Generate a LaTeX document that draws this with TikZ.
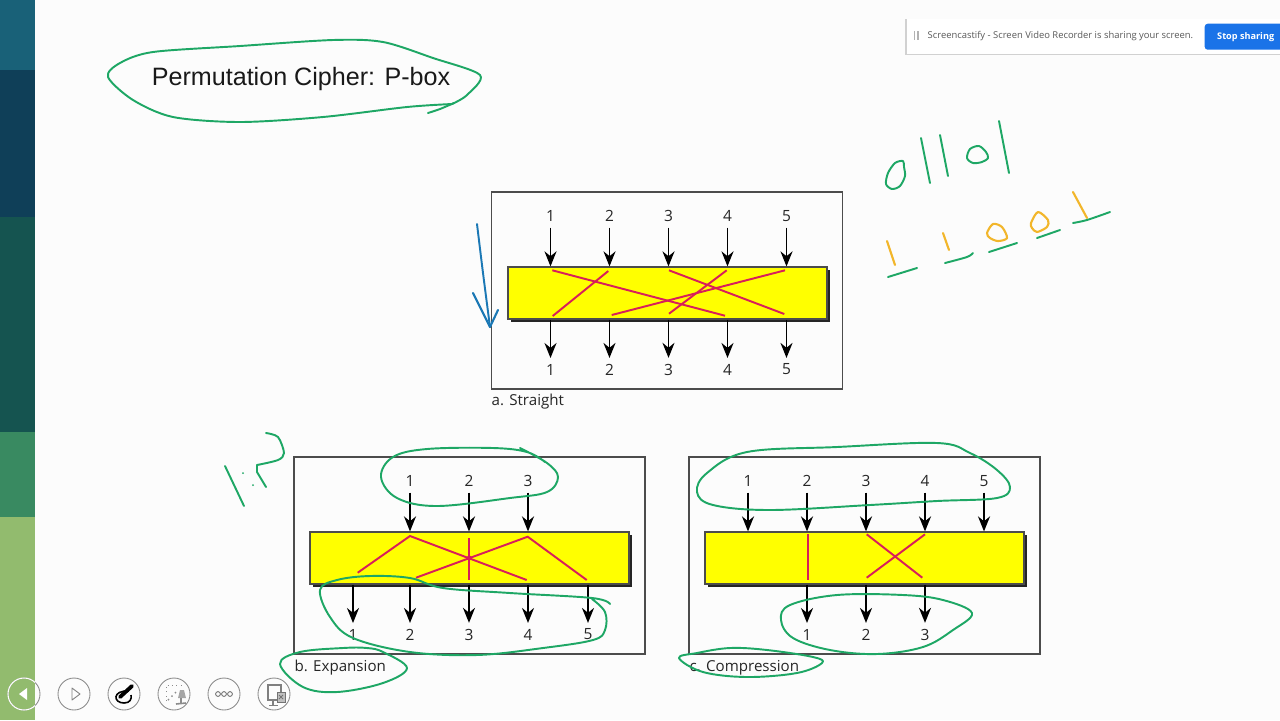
\documentclass[tikz,border=0pt]{standalone}
\usepackage{fontspec}
\setmainfont{Liberation Sans}
\newfontfamily\figfont{Open Sans}
\usetikzlibrary{arrows.meta, shadows}
\definecolor{sideA}{HTML}{196178}
\definecolor{sideB}{HTML}{0F3F58}
\definecolor{sideC}{HTML}{155450}
\definecolor{sideD}{HTML}{398A61}
\definecolor{sideE}{HTML}{92BB6E}
\definecolor{boxyellow}{RGB}{255,255,0}
\definecolor{wirered}{HTML}{D81E5B}
\definecolor{inkgreen}{HTML}{1EA765}
\definecolor{inkorange}{HTML}{F2B62B}
\definecolor{inkblue}{HTML}{1B78B5}
\definecolor{stopblue}{HTML}{1A73E8}
\tikzset{
	frame/.style = {draw=black!70, line width=0.33pt, inner sep=0, minimum width=35.1mm, minimum height=19.7mm},
	pbox/.style = {draw=black!70, fill=boxyellow, line width=0.35pt, inner sep=0, minimum width=31.9mm, minimum height=5.2mm,
		drop shadow={shadow xshift=0.3mm, shadow yshift=-0.3mm, fill=black, opacity=0.85}},
	num/.style = {inner sep=1.5pt, font=\figfont\fontsize{4.4pt}{5pt}\selectfont, text=black!85},
	caption/.style = {inner sep=0, anchor=west, font=\figfont\fontsize{4.3pt}{5.2pt}\selectfont, text=black!85},
	pin/.style = {-{Stealth[length=1.5mm, width=1.2mm]}, line width=0.55pt, black},
	wire/.style = {wirered, line width=0.55pt},
	ink/.style = {inkgreen, line width=0.55pt, line cap=round, line join=round},
	orangeink/.style = {inkorange, line width=0.6pt, line cap=round, line join=round},
	toolring/.style = {circle, draw=black!45, line width=0.25pt, minimum size=3.2mm, inner sep=0}
}
\begin{document}
\begin{tikzpicture}[x=0.1mm, y=-0.1mm]
	\useasboundingbox (0,0) rectangle (1280,720);
	\fill[white!99!black] (0,0) rectangle (1280,720);
	% side strip
	\fill[sideA] (0,0) rectangle (35,70);
	\fill[sideB] (0,70) rectangle (35,217);
	\fill[sideC] (0,217) rectangle (35,432);
	\fill[sideD] (0,432) rectangle (35,517);
	\fill[sideE] (0,517) rectangle (35,720);

	\node[inner sep=0, font=\fontsize{7.15pt}{8.5pt}\selectfont, text=black!90] (title) at (301,78.5) {Permutation Cipher: P-box};
	\draw[ink] plot[smooth, tension=0.5] coordinates {(452,104) (407,107) (323,117) (240,122) (173,117) (133,100) (108,77) (120,63) (153,52) (240,46) (333,40) (383,42) (433,58) (480,75) (467,95) (452,104)};
	\draw[ink] plot[smooth] coordinates {(428,113) (440,109) (454,103)};

	% a. straight
	\node[frame] (aframe) at (667,290.5) {};
	\node[pbox] (abox) at (667.5,293) {};
	\foreach \n/\x in {1/550.5, 2/609.5, 3/668.5, 4/727.5, 5/786.5} {
		\node[num] (atop\n) at (\x,216) {\n};
		\node[num] (abot\n) at (\x,369.5) {\n};
		\draw[pin] (atop\n) -- (atop\n |- abox.north);
		\draw[pin] (abot\n |- abox.south) -- (abot\n);
	}
	\draw[wire] (552.3,270.3) -- (725,315.7);
	\draw[wire] (608.3,271) -- (552.7,316);
	\draw[wire] (669,270.3) -- (784.3,314);
	\draw[wire] (726.7,270.3) -- (669,313.7);
	\draw[wire] (785,270.3) -- (611.7,315);
	\node[caption] (acap) at (491,401.5) {a. Straight};

	% b. expansion
	\node[frame] (bframe) at (469.5,555.5) {};
	\node[pbox] (bbox) at (469.5,558) {};
	\foreach \n/\x in {1/410, 2/469, 3/528} {
		\node[num] (btop\n) at (\x,481) {\n};
		\draw[pin] (btop\n) -- (btop\n |- bbox.north);
	}
	\foreach \n/\x in {1/353, 2/410, 3/469, 4/528, 5/588} {
		\node[num] (bbot\n) at (\x,634.5) {\n};
		\draw[pin] (bbot\n |- bbox.south) -- (bbot\n);
	}
	\draw[wire] (357.7,572.7) -- (410,536) -- (526.7,580);
	\draw[wire] (416,577.7) -- (527.7,536.7) -- (586.7,580);
	\draw[wire] (469.3,538.3) -- (469.3,580);
	\fill[wirered] (469.3,558) circle (2.5);
	\node[caption] (bcap) at (294,668) {b. Expansion};

	% c. compression
	\node[frame] (cframe) at (864.5,555.5) {};
	\node[pbox] (cbox) at (864.5,558) {};
	\foreach \n/\x in {1/748, 2/807, 3/866, 4/925, 5/984} {
		\node[num] (ctop\n) at (\x,481) {\n};
		\draw[pin] (ctop\n) -- (ctop\n |- cbox.north);
	}
	\foreach \n/\x in {1/807, 2/866, 3/925} {
		\node[num] (cbot\n) at (\x,634.5) {\n};
		\draw[pin] (cbot\n |- cbox.south) -- (cbot\n);
	}
	\draw[wire] (807.7,534.3) -- (807.7,580);
	\draw[wire] (866.7,534.3) -- (922.3,577.7);
	\draw[wire] (925,534.3) -- (866.7,577.7);
	\node[caption] (ccap) at (689,667.5) {c. Compression};

	% pen strokes on the panels
	\draw[inkblue, line width=0.55pt, line cap=round, line join=round] plot[smooth] coordinates {(477,224) (483,273) (490,327)};
	\draw[inkblue, line width=0.6pt, line cap=round, line join=round] (473,293) -- (490,327) -- (498,310);
	\draw[ink] plot[smooth, tension=0.6] coordinates {(520,448) (547,463) (558,477) (547,492) (510,498) (437,506) (397,498) (381,477) (393,457) (427,449) (493,448) (527,452) (545,462)};
	\draw[ink] plot[smooth, tension=0.6] coordinates {(610,604) (592,598) (510,593) (443,588) (410,578) (370,576) (337,580) (320,590) (330,617) (353,638) (410,652) (477,655) (543,648) (593,640) (605,630) (605,612) (592,599)};
	\draw[ink] plot[smooth cycle, tension=0.6] coordinates {(383,652) (407,668) (383,683) (337,692) (303,687) (280,664) (300,652) (343,648) (367,648)};
	\draw[ink] plot[smooth cycle, tension=0.6] coordinates {(1010,487) (997,498) (937,501) (870,505) (770,510) (713,505) (697,492) (707,473) (747,452) (837,447) (937,443) (970,453) (997,470)};
	\draw[ink] plot[smooth cycle, tension=0.6] coordinates {(972,613) (953,630) (923,647) (877,654) (830,650) (793,638) (781,620) (790,605) (837,595) (903,595) (943,600)};
	\draw[ink] plot[smooth cycle, tension=0.6] coordinates {(679,658) (703,672) (747,677) (797,673) (822,663) (813,657) (767,650) (730,648) (697,653)};

	% 1:2
	\draw[ink] (225,466) -- (244,506);
	\fill[inkgreen] (243,473) circle (1) (253,485) circle (1);
	\draw[ink] plot[smooth, tension=0.5] coordinates {(266,433) (278,437) (284,453) (278,460) (257,465)};
	\draw[ink] (257,465) -- (257,472) -- (266,487);

	% bits
	\draw[ink] plot[smooth cycle] coordinates {(903,161) (895,163) (888,173) (886,184) (892,189) (900,186) (905,176) (904,167)};
	\draw[ink] (921,138) -- (930,183);
	\draw[ink] (940,135) -- (948,176);
	\draw[ink] plot[smooth cycle] coordinates {(967,158) (970,149) (979,146) (986,152) (988,158) (982,162) (973,163)};
	\draw[ink] (999,121) -- (1009,173);
	\draw[orangeink] (887,241) -- (895,265);
	\draw[orangeink] (943,233) -- (949,250);
	\draw[orangeink] plot[smooth cycle] coordinates {(987,233) (993,224) (1002,227) (1007,238) (998,241) (990,238)};
	\draw[orangeink] plot[smooth cycle] coordinates {(1031,223) (1038,212) (1048,220) (1047,227) (1037,232) (1032,228)};
	\draw[orangeink] (1073,192) -- (1087,218);
	\draw[ink] (888,277) -- (917,268);
	\draw[ink] plot[smooth] coordinates {(945,263) (967,257) (973,253)};
	\draw[ink] (989,252) -- (1017,243);
	\draw[ink] (1037,238) -- (1060,230);
	\draw[ink] plot[smooth] coordinates {(1073,223) (1087,220) (1110,212)};

	% sharing bar
	\fill[black!18] (905,19) rectangle (1280,54.5);
	\node[fill=white, inner sep=0, minimum width=37.4mm, minimum height=3.5mm, anchor=north west] (sharebar) at (906,18) {};
	\node[fill=stopblue, rounded corners=0.3mm, inner sep=0, minimum width=8.2mm, minimum height=2.6mm, anchor=north west,
		text=white, font=\figfont\bfseries\fontsize{2.6pt}{3.2pt}\selectfont] (stopbtn) at (1204,23) {Stop sharing};
	\node[inner sep=0, anchor=west, text=black!65, font=\figfont\fontsize{2.68pt}{3.2pt}\selectfont] (sharetext) at (927,36.5) {Screencastify - Screen Video Recorder is sharing your screen.};
	\draw[black!30, line width=0.3pt] (914.5,31) -- (914.5,40) (918,31) -- (918,40);

	% slide show buttons
	\node[toolring] (tool1) at (24,694) {};
	\node[toolring] (tool2) at (74,694) {};
	\node[toolring] (tool3) at (124,694) {};
	\node[toolring] (tool4) at (174,694) {};
	\node[toolring] (tool5) at (224,694) {};
	\node[toolring] (tool6) at (274,694) {};
	\begin{scope}
		\clip (0,670) rectangle (35,720);
		\draw[white, line width=0.3pt] (tool1) circle (16);
	\end{scope}
	\fill[white] (19,694) -- (27,688) -- (27,700) -- cycle;
	\draw[black!50, line width=0.25pt, line join=round] (80,694) -- (72,688) -- (72,700) -- cycle;
	% pen
	\draw[black, line width=1.1pt, line cap=round] (120,697) -- (132,686);
	\draw[black, line width=0.45pt] (129,691) .. controls (112,690) and (113,703) .. (124,703) .. controls (130,703) and (132,699) .. (131,695);
	% pointer with dotted frame
	\draw[black!45, line width=0.25pt, densely dotted] (166,701) -- (166,685) -- (182,685);
	\draw[black!45, line width=0.4pt, densely dotted] (168,700) -- (178,690);
	\fill[black!35] (180,690) -- (184,690) -- (186,698) -- (178,698) -- cycle;
	\draw[black!45, line width=0.45pt] (181,698) -- (181,703) (176,704) -- (186,703);
	% dots
	\foreach \x in {218, 224, 230} {
		\draw[black!55, line width=0.25pt] (\x,694) circle (2.4);
	}
	% screen with cross
	\draw[black!50, line width=0.35pt] (268,685) rectangle (281,700);
	\draw[black!50, line width=0.35pt] (273,700) -- (273,705) (269,705.5) -- (278,705.5);
	\filldraw[fill=black!25, draw=black!55, line width=0.25pt] (277,692) rectangle (285,702);
	\draw[black!55, line width=0.25pt] (279,695) -- (283,699) (283,695) -- (279,699);
\end{tikzpicture}
\end{document}
